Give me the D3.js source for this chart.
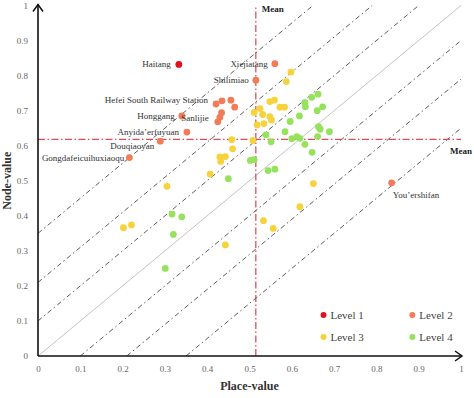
<!DOCTYPE html>
<html>
<head>
<meta charset="utf-8">
<script src="https://cdn.jsdelivr.net/npm/d3@7/dist/d3.min.js"></script>
<style>
  html, body { margin: 0; padding: 0; background: #fff; }
  svg text { font-family: "Liberation Serif", "Times New Roman", serif; }
</style>
</head>
<body>
<svg id="chart" width="474" height="398"></svg>
<script>
// ---------------- data ----------------
const xTicks = [0, 0.1, 0.2, 0.3, 0.4, 0.5, 0.6, 0.7, 0.8, 0.9, 1];
const yTicks = [0, 0.1, 0.2, 0.3, 0.4, 0.5, 0.6, 0.7, 0.8, 0.9, 1];
const tickLabels = ["0", "0.1", "0.2", "0.3", "0.4", "0.5", "0.6", "0.7", "0.8", "0.9", "1"];
const levels = ["Level 1", "Level 2", "Level 3", "Level 4"];
const meanPlace = 0.515;
const meanNode = 0.618;
const bandOffsets = [0.1, 0.21, 0.35, -0.1, -0.21, -0.35];

// Level 1
const level1 = [[0.333, 0.832]];
// Level 2
const level2 = [
  [0.560, 0.834], [0.515, 0.787],
  [0.421, 0.719], [0.435, 0.728], [0.456, 0.730], [0.465, 0.710],
  [0.434, 0.694], [0.430, 0.681], [0.425, 0.668],
  [0.340, 0.685], [0.352, 0.639], [0.289, 0.613], [0.216, 0.566],
  [0.836, 0.494]
];
// Level 3
const level3 = [
  [0.598, 0.810], [0.587, 0.783], [0.548, 0.726], [0.559, 0.730], [0.572, 0.710],
  [0.583, 0.710], [0.511, 0.695], [0.525, 0.706], [0.531, 0.689], [0.548, 0.683],
  [0.552, 0.673], [0.518, 0.659], [0.534, 0.663], [0.508, 0.615], [0.458, 0.617],
  [0.460, 0.591], [0.430, 0.568], [0.443, 0.569], [0.432, 0.555], [0.407, 0.519],
  [0.305, 0.484], [0.202, 0.366], [0.221, 0.374], [0.443, 0.317], [0.651, 0.492],
  [0.619, 0.426], [0.533, 0.386], [0.556, 0.364]
];
// Level 4
const level4 = [
  [0.631, 0.723], [0.632, 0.711], [0.647, 0.738], [0.662, 0.747], [0.660, 0.700],
  [0.673, 0.711], [0.618, 0.685], [0.596, 0.669], [0.663, 0.654], [0.667, 0.647],
  [0.689, 0.640], [0.584, 0.640], [0.539, 0.631], [0.600, 0.620], [0.612, 0.626],
  [0.619, 0.621], [0.551, 0.611], [0.631, 0.604], [0.661, 0.626], [0.648, 0.581],
  [0.502, 0.558], [0.511, 0.560], [0.544, 0.529], [0.560, 0.533], [0.450, 0.506],
  [0.317, 0.405], [0.340, 0.397], [0.320, 0.347], [0.301, 0.250]
];
// named points
const labelNames = ["Haitang", "Xiejiatang", "Shilimiao", "Hefei South Railway Station", "Honggang",
  "Sanlijie", "Anyida\u2019erfuyuan", "Douqiaoyan", "Gongdafeicuihuxiaoqu", "You\u2019ershifan"];
const labelPoints = [
  [0.333, 0.832], [0.560, 0.834], [0.515, 0.787], [0.421, 0.719], [0.340, 0.685],
  [0.425, 0.668], [0.352, 0.639], [0.289, 0.613], [0.216, 0.566], [0.836, 0.494]
];
// label placement (pixel offsets, anchor)
const labelStyle = [
  {dx: -8, dy: 3, a: "end"}, {dx: -7, dy: 3, a: "end"}, {dx: -7, dy: 3, a: "end"},
  {dx: -8, dy: -1, a: "end"}, {dx: -7, dy: 3, a: "end"}, {dx: -9, dy: -0.5, a: "end"},
  {dx: -8, dy: 3, a: "end"}, {dx: -6, dy: 8, a: "end"}, {dx: -5, dy: 3, a: "end"},
  {dx: 1, dy: 15, a: "start"}
];

const colors = ["#e3111b", "#f27b58", "#f6d33c", "#95e35d"];

// ---------------- chart ----------------
const svg = d3.select("#chart");
const x = d3.scaleLinear().domain([0, 1]).range([38, 461]);
const y = d3.scaleLinear().domain([0, 1]).range([356, 5.5]);

// tick labels
const xAxis = d3.axisBottom(x).tickValues(xTicks).tickSize(0).tickPadding(10)
  .tickFormat((d, i) => tickLabels[i]);
const yAxis = d3.axisLeft(y).tickValues(yTicks).tickSize(0).tickPadding(10)
  .tickFormat((d, i) => tickLabels[i]);
const gx = svg.append("g").attr("transform", `translate(0,${y(0)})`).call(xAxis);
const gy = svg.append("g").attr("transform", `translate(${x(0)},0)`).call(yAxis);
[gx, gy].forEach(g => {
  g.select(".domain").remove();
  g.selectAll("text").attr("fill", "#666").style("font-size", "9px")
    .style("font-family", "'Liberation Serif', serif");
});
gy.selectAll("text").attr("dy", "0.32em");

// diagonal reference line y = x
svg.append("line")
  .attr("x1", x(0)).attr("y1", y(0)).attr("x2", x(1)).attr("y2", y(1))
  .attr("stroke", "#c4c4c4").attr("stroke-width", 1);

// band lines y = x + c
svg.append("g").selectAll("line").data(bandOffsets).join("line")
  .attr("x1", c => x(c > 0 ? 0 : -c))
  .attr("y1", c => y(c > 0 ? c : 0))
  .attr("x2", c => x(c > 0 ? 1 - c : 1))
  .attr("y2", c => y(c > 0 ? 1 : 1 + c))
  .attr("stroke", "#4a4a4a").attr("stroke-width", 0.9)
  .attr("stroke-dasharray", "5,3,1.5,3");

// mean lines
svg.append("line")
  .attr("x1", x(meanPlace)).attr("x2", x(meanPlace)).attr("y1", y(0)).attr("y2", y(1))
  .attr("stroke", "#d8303f").attr("stroke-width", 1.1)
  .attr("stroke-dasharray", "7,2.5,1.5,2.5");
svg.append("line")
  .attr("x1", x(0)).attr("x2", x(1)).attr("y1", y(meanNode)).attr("y2", y(meanNode))
  .attr("stroke", "#e04a58").attr("stroke-width", 1.1)
  .attr("stroke-dasharray", "7,2.5,1.5,2.5");
svg.append("text").attr("x", x(meanPlace) + 6).attr("y", y(1) + 6)
  .attr("font-size", "9px").attr("font-weight", "bold").attr("fill", "#222").text("Mean");
svg.append("text").attr("x", x(1) + 11).attr("y", y(meanNode) + 15)
  .attr("text-anchor", "end")
  .attr("font-size", "9px").attr("font-weight", "bold").attr("fill", "#222").text("Mean");

// axes lines with arrows
svg.append("line").attr("x1", x(0)).attr("y1", y(0)).attr("x2", x(0)).attr("y2", y(1) - 1)
  .attr("stroke", "#111").attr("stroke-width", 1.6);
svg.append("line").attr("x1", x(0)).attr("y1", y(0)).attr("x2", x(1) + 1).attr("y2", y(0))
  .attr("stroke", "#111").attr("stroke-width", 1.6);
svg.append("path")
  .attr("d", `M${x(0) - 5},${y(1) + 6} L${x(0)},${y(1) - 1} L${x(0) + 5},${y(1) + 6}`)
  .attr("fill", "none").attr("stroke", "#111").attr("stroke-width", 1.5);
svg.append("path")
  .attr("d", `M${x(1) - 6},${y(0) - 5} L${x(1) + 1},${y(0)} L${x(1) - 6},${y(0) + 5}`)
  .attr("fill", "none").attr("stroke", "#111").attr("stroke-width", 1.5);

// axis titles
svg.append("text").attr("x", x(0.5)).attr("y", 390).attr("text-anchor", "middle")
  .attr("font-size", "12px").attr("font-weight", "bold").attr("fill", "#333").text("Place-value");
svg.append("text").attr("transform", `translate(11,${y(0.5)}) rotate(-90)`)
  .attr("text-anchor", "middle")
  .attr("font-size", "12px").attr("font-weight", "bold").attr("fill", "#333").text("Node-value");

// points
const series = [level1, level2, level3, level4];
series.forEach((pts, i) => {
  svg.append("g").selectAll("circle").data(pts).join("circle")
    .attr("cx", d => x(d[0])).attr("cy", d => y(d[1])).attr("r", 3.4)
    .attr("fill", colors[i]);
});

// point labels
svg.append("g").selectAll("text").data(labelNames).join("text")
  .attr("x", (d, i) => x(labelPoints[i][0]) + labelStyle[i].dx)
  .attr("y", (d, i) => y(labelPoints[i][1]) + labelStyle[i].dy)
  .attr("text-anchor", (d, i) => labelStyle[i].a)
  .attr("font-size", "9px").attr("fill", "#333").text(d => d);

// legend
const legendPos = [[x(0.675), 315], [x(0.885), 315], [x(0.675), 337], [x(0.885), 337]];
const lg = svg.append("g");
levels.forEach((name, i) => {
  lg.append("circle").attr("cx", legendPos[i][0]).attr("cy", legendPos[i][1]).attr("r", 3)
    .attr("fill", colors[i]);
  lg.append("text").attr("x", legendPos[i][0] + 7).attr("y", legendPos[i][1] + 4)
    .attr("font-size", "11px").attr("fill", "#444").text(name);
});
</script>
</body>
</html>
